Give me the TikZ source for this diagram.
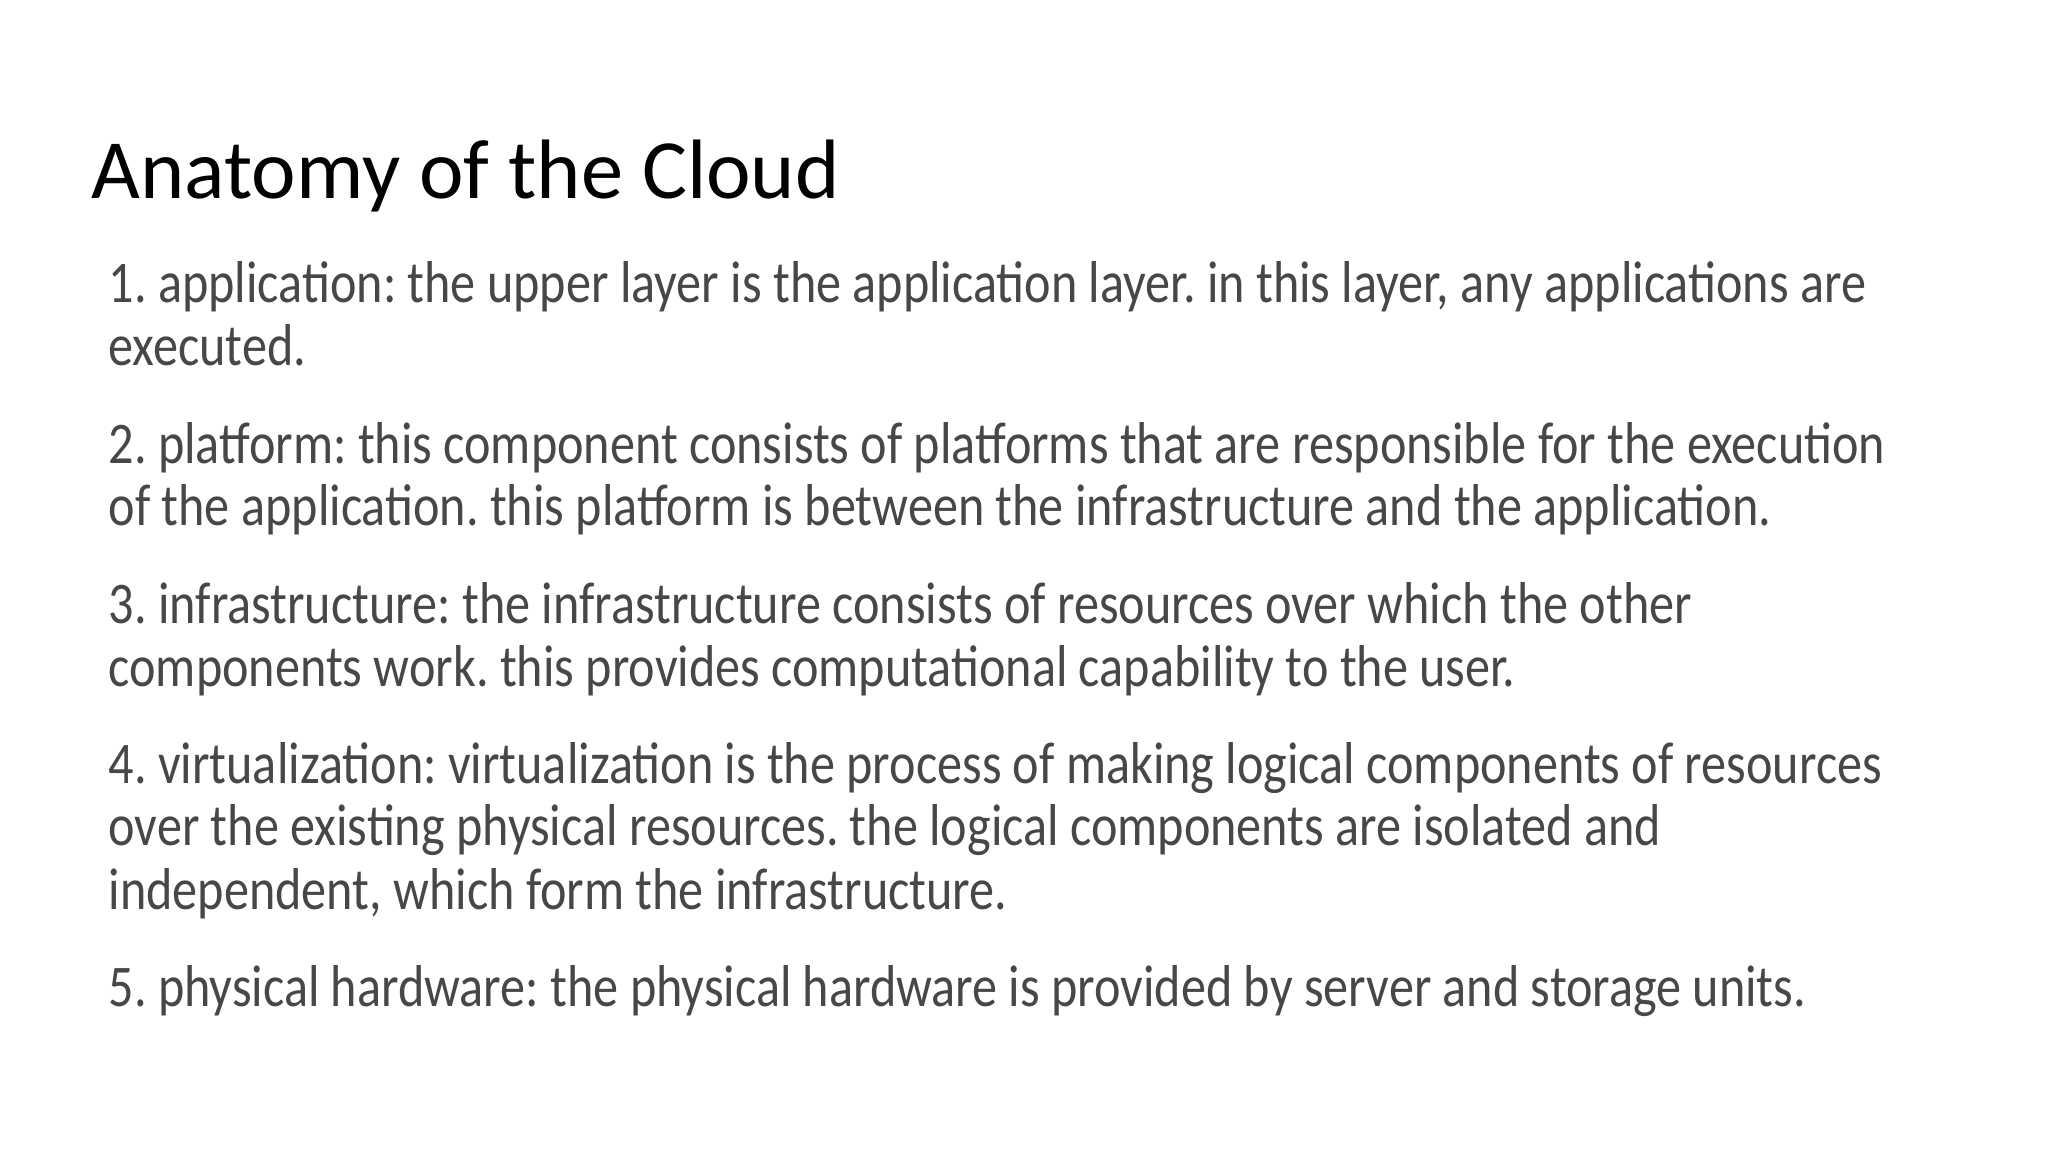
\documentclass[tikz,border=0pt]{standalone}
\usepackage{fontspec}
\setmainfont{Carlito}
\newfontfamily\bodyfont[FakeStretch=0.85]{Carlito}
\begin{document}
\frenchspacing
\begin{tikzpicture}[x=1cm,y=1cm,
  body/.style={anchor=base west,inner sep=0pt,text=black!72,font=\bodyfont\fontsize{16.8}{20}\selectfont},
  ttl/.style={anchor=base west,inner sep=0pt,font=\fontsize{24}{28}\selectfont}]
\useasboundingbox[fill=white] (0,0) rectangle (20.48,11.52);
\node[ttl] (t) at (0.91,9.53) {Anatomy of the Cloud};
\node[body] (l1) at (1.08,8.49) {1. application: the upper layer is the application layer. in this layer, any applications are};
\node[body] (l2) at (1.08,7.86) {executed.};
\node[body] (l3) at (1.08,6.88) {2. platform: this component consists of platforms that are responsible for the execution};
\node[body] (l4) at (1.08,6.26) {of the application. this platform is between the infrastructure and the application.};
\node[body] (l5) at (1.08,5.28) {3. infrastructure: the infrastructure consists of resources over which the other};
\node[body] (l6) at (1.08,4.65) {components work. this provides computational capability to the user.};
\node[body] (l7) at (1.08,3.68) {4. virtualization: virtualization is the process of making logical components of resources};
\node[body] (l8) at (1.08,3.06) {over the existing physical resources. the logical components are isolated and};
\node[body] (l9) at (1.08,2.42) {independent, which form the infrastructure.};
\node[body] (l10) at (1.08,1.45) {5. physical hardware: the physical hardware is provided by server and storage units.};
\end{tikzpicture}
\end{document}
